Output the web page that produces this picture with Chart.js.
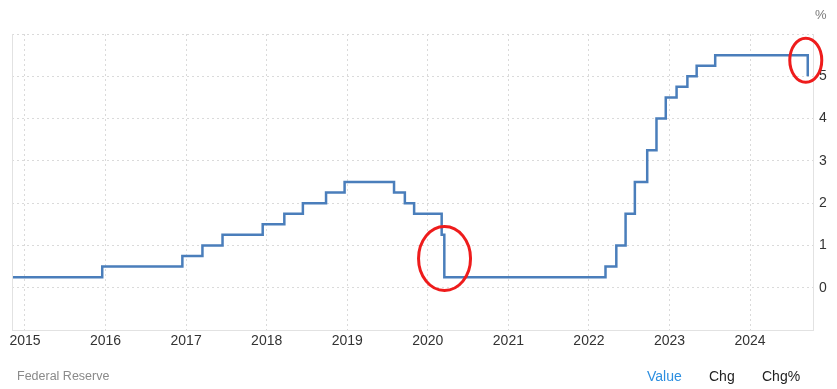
<!DOCTYPE html>
<html>
<head>
<meta charset="utf-8">
<script src="https://cdn.jsdelivr.net/npm/chart.js@4.4.1/dist/chart.umd.min.js"></script>
<style>
  html, body { margin: 0; padding: 0; background: #fff; }
  body { width: 837px; height: 389px; position: relative; overflow: hidden;
         font-family: Arial, 'Liberation Sans', sans-serif; }
  #wrap { position: absolute; left: 0; top: 0; width: 837px; height: 389px; }
  .txt { position: absolute; white-space: nowrap; line-height: 1; }
</style>
</head>
<body>
<div id="wrap"><canvas id="chart"></canvas></div>
<div class="txt" style="left:815px;top:8px;font-size:13px;color:#7a7a7a;">%</div>
<div class="txt" style="left:17px;top:370px;font-size:12.5px;color:#8a8a8a;">Federal Reserve</div>
<div class="txt" style="left:647px;top:369px;font-size:14px;color:#2d8fe0;">Value</div>
<div class="txt" style="left:709px;top:369px;font-size:14px;color:#222;">Chg</div>
<div class="txt" style="left:762px;top:369px;font-size:14px;color:#222;">Chg%</div>
<script>
// Fed funds rate (upper bound), date of each change and the new level
const changeDates = [
  '2014-11-02', '2015-12-17', '2016-12-15', '2017-03-16', '2017-06-15',
  '2017-12-14', '2018-03-22', '2018-06-14', '2018-09-27', '2018-12-20',
  '2019-08-01', '2019-09-19', '2019-10-31', '2020-03-04', '2020-03-16',
  '2022-03-17', '2022-05-05', '2022-06-16', '2022-07-28', '2022-09-22',
  '2022-11-03', '2022-12-15', '2023-02-02', '2023-03-23', '2023-05-04',
  '2023-07-27', '2024-09-19'
];
const rateValues = [
  0.25, 0.5, 0.75, 1.0, 1.25,
  1.5, 1.75, 2.0, 2.25, 2.5,
  2.25, 2.0, 1.75, 1.25, 0.25,
  0.5, 1.0, 1.75, 2.5, 3.25,
  4.0, 4.5, 4.75, 5.0, 5.25,
  5.5, 5.0
];
const yearTicks = [2015, 2016, 2017, 2018, 2019, 2020, 2021, 2022, 2023, 2024];
const yTickLabels = [0, 1, 2, 3, 4, 5];

// red marks drawn on the picture (centre in data units)
const markCentersX = ['2020-03-17', '2024-09-10'];
const markCentersY = [0.69, 5.38];
const markRadii = [[26, 32], [16, 22]];

function toYear(s){
  const d = new Date(s + 'T00:00:00Z');
  const y = d.getUTCFullYear();
  const start = Date.UTC(y, 0, 1);
  const end = Date.UTC(y + 1, 0, 1);
  return y + (d.getTime() - start) / (end - start);
}

const points = changeDates.map((d, i) => ({ x: toYear(d), y: rateValues[i] }));

const frame = {
  id: 'frame',
  afterDraw(chart){
    const { ctx, chartArea: a, scales } = chart;
    ctx.save();
    ctx.strokeStyle = '#e2e2e2';
    ctx.lineWidth = 1;
    ctx.beginPath();
    ctx.moveTo(Math.round(a.left) + 0.5, a.top);
    ctx.lineTo(Math.round(a.left) + 0.5, a.bottom);
    ctx.stroke();
    // red ellipses
    ctx.strokeStyle = '#ee1c1c';
    ctx.lineWidth = 3;
    markCentersX.forEach((d, i) => {
      const cx = scales.x.getPixelForValue(toYear(d));
      const cy = scales.y.getPixelForValue(markCentersY[i]);
      ctx.beginPath();
      ctx.ellipse(cx, cy, markRadii[i][0], markRadii[i][1], 0, 0, Math.PI * 2);
      ctx.stroke();
    });
    ctx.restore();
  }
};

new Chart(document.getElementById('chart'), {
  type: 'line',
  data: {
    datasets: [{
      data: points,
      stepped: 'before',
      borderColor: '#4a7ebb',
      borderWidth: 2.5,
      pointRadius: 0,
      fill: false
    }]
  },
  options: {
    responsive: true,
    maintainAspectRatio: false,
    animation: false,
    layout: { padding: { left: 12, top: 34, right: 0, bottom: 0 } },
    plugins: { legend: { display: false }, tooltip: { enabled: false } },
    scales: {
      x: {
        type: 'linear',
        min: 2014.839,
        max: 2024.781,
        afterBuildTicks: (s) => { s.ticks = yearTicks.map(v => ({ value: v })); },
        afterFit: (s) => { s.height = 59; },
        ticks: {
          padding: 3,
          color: '#333',
          font: { family: "Arial, 'Liberation Sans', sans-serif", size: 14 },
          callback: (v) => String(v),
          maxRotation: 0
        },
        grid: { color: '#dadada', drawTicks: false },
        border: { color: '#e2e2e2', dash: [2, 3] }
      },
      y: {
        position: 'right',
        min: -1,
        max: 6,
        afterBuildTicks: (s) => {
          const t = [];
          for(let v = -1; v <= 6; v++) t.push({ value: v });
          s.ticks = t;
        },
        afterFit: (s) => { s.width = 24; },
        ticks: {
          padding: 6,
          color: '#333',
          font: { family: "Arial, 'Liberation Sans', sans-serif", size: 14 },
          callback: (v) => yTickLabels.includes(v) ? String(v) : ''
        },
        grid: {
          color: (c) => c.tick && c.tick.value === -1 ? 'rgba(0,0,0,0)' : '#dadada',
          drawTicks: false
        },
        border: { color: '#e2e2e2', dash: [2, 3] }
      }
    }
  },
  plugins: [frame]
});
</script>
</body>
</html>
